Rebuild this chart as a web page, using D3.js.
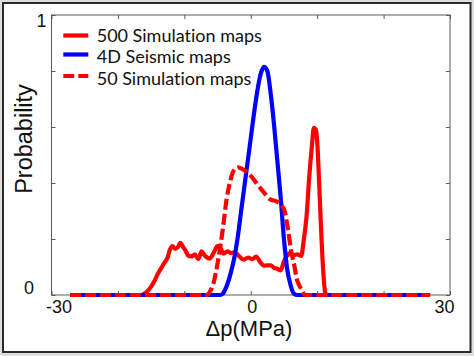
<!DOCTYPE html>
<html>
<head>
<meta charset="utf-8">
<script src="https://cdn.jsdelivr.net/npm/d3@7"></script>
<style>
  html, body { margin: 0; padding: 0; background: #dedede; }
  svg { display: block; }
  text { font-variant-ligatures: none; }
</style>
</head>
<body>
<svg id="chart" width="474" height="356"></svg>
<script>
// ---- data (Δp in MPa, probability) ----
const seriesNames = ["500 Simulation maps", "4D Seismic maps", "50 Simulation maps"];

const sim500X = [-27.2,-16.5,-16,-15.5,-15,-14.5,-14,-13.5,-13,-12.5,-12.2,-11.8,-11.4,-11.0,-10.6,-10.2,-9.8,-9.4,-8.9,-8.4,-7.9,-7.4,-6.9,-6.2,-5.6,-5.0,-4.5,-4.1,-3.5,-3.0,-2.4,-1.8,-1.1,-0.4,0.2,0.8,1.4,2.0,2.5,3.0,3.5,4.0,4.5,5.0,5.4,5.9,6.4,7.0,7.6,8.0,8.4,8.8,9.2,9.5,9.8,10.0,10.3,10.6,10.9,11.2,11.4,27];
const sim500P = [0,0,0.005,0.015,0.03,0.05,0.075,0.095,0.115,0.135,0.16,0.175,0.165,0.17,0.186,0.172,0.158,0.14,0.138,0.145,0.128,0.156,0.14,0.13,0.15,0.175,0.165,0.148,0.156,0.15,0.152,0.14,0.126,0.134,0.128,0.137,0.118,0.105,0.106,0.106,0.097,0.094,0.088,0.12,0.138,0.15,0.142,0.145,0.14,0.2,0.28,0.42,0.53,0.597,0.59,0.55,0.4,0.23,0.09,0.01,0,0];

const seismicX = [-27.2,-4.6,-4.2,-3.5,-3,-2.5,-2,-1.5,-1,-0.5,0,0.5,1,1.5,2,2.5,3,3.5,4,4.5,5,5.5,6,6.5,7,27];
const seismicP = [0,0,0.005,0.04,0.08,0.13,0.2,0.29,0.38,0.47,0.56,0.65,0.73,0.79,0.815,0.8,0.72,0.61,0.48,0.35,0.2,0.09,0.035,0.005,0,0];

const sim50X = [-27.2,-6.6,-6.2,-5.6,-4.9,-4.15,-3.65,-3.15,-2.65,-1.9,-1.15,-0.15,0.85,1.85,2.9,3.9,4.6,5.1,5.6,6.1,6.6,6.9,7.4,7.8,8.2,27];
const sim50P = [0,0,0.01,0.043,0.126,0.245,0.34,0.40,0.44,0.456,0.448,0.43,0.40,0.37,0.342,0.334,0.322,0.3,0.235,0.156,0.10,0.06,0.03,0.01,0,0];

const xTicks = [-30,-20,-10,0,10,20,30];
const xTickLabels = ["-30","","","0","","","30"];
const yTicks = [0,0.2,0.4,0.6,0.8,1];
const yTickLabels = ["0","","","","","1"];
const xLabel = "Δp(MPa)";
const yLabel = "Probability";

// ---- layout ----
const svg = d3.select("#chart");
const L = 51.5, R = 450, T = 15, B = 295;
const x = d3.scaleLinear().domain([-30, 30]).range([L, R]);
const y = d3.scaleLinear().domain([0, 1]).range([B, T]);

// outer frame
svg.append("rect").attr("x", 3).attr("y", 3).attr("width", 467.5).attr("height", 349)
  .attr("fill", "#fff").attr("stroke", "#2a2a2a").attr("stroke-width", 2);

const axisColor = "#5a5a5a";
const tickFont = "'Liberation Sans', Arial, sans-serif";

function styleAxis(g) {
  g.select(".domain").remove();
  g.selectAll(".tick line").attr("stroke", axisColor).attr("stroke-width", 1);
  g.selectAll(".tick text").attr("fill", "#111").style("font-family", tickFont).style("font-size", "18px");
}

// bottom axis
const xLabOffset = {"-30": 7, "0": 1, "30": -6};
svg.append("g").attr("transform", `translate(0,${B})`)
  .call(d3.axisBottom(x).tickValues(xTicks).tickSize(-4).tickSizeOuter(0)
        .tickFormat((d, i) => xTickLabels[i]))
  .call(styleAxis)
  .call(g => g.selectAll(".tick text").attr("y", 17.5).attr("dy", 0)
        .attr("dx", d => xLabOffset[String(d)] || 0));
// top axis
svg.append("g").attr("transform", `translate(0,${T})`)
  .call(d3.axisTop(x).tickValues(xTicks).tickSize(-4).tickSizeOuter(0).tickFormat(""))
  .call(styleAxis);
// left axis
const yLabPos = {"0": {x: -17.5, y: -1.8}, "1": {x: -5, y: 11.7}};
svg.append("g").attr("transform", `translate(${L},0)`)
  .call(d3.axisLeft(y).tickValues(yTicks).tickSize(-4).tickSizeOuter(0)
        .tickFormat((d, i) => yTickLabels[i]))
  .call(styleAxis)
  .call(g => g.selectAll(".tick text").attr("dy", 0)
        .attr("x", d => (yLabPos[String(d)] || {x:0}).x)
        .attr("y", d => (yLabPos[String(d)] || {y:0}).y));
// right axis
svg.append("g").attr("transform", `translate(${R},0)`)
  .call(d3.axisRight(y).tickValues(yTicks).tickSize(-4).tickSizeOuter(0).tickFormat(""))
  .call(styleAxis);

// plot frame
svg.append("rect").attr("x", L).attr("y", T).attr("width", R - L).attr("height", B - T)
  .attr("fill", "none").attr("stroke", axisColor).attr("stroke-width", 1);

// axis labels
svg.append("text").attr("x", 249).attr("y", 336).attr("text-anchor", "middle")
  .style("font-family", tickFont).style("font-size", "22px").attr("fill", "#111").text(xLabel);
svg.append("text").attr("transform", "translate(32,139) rotate(-90)").attr("text-anchor", "middle")
  .style("font-family", tickFont).style("font-size", "23.5px").attr("fill", "#111").text(yLabel);

// curves
const line = d3.line().x(d => x(d[0])).y(d => y(d[1])).curve(d3.curveMonotoneX);
const series = [
  {xs: sim500X, ps: sim500P, color: "#ff0000", dash: null},
  {xs: seismicX, ps: seismicP, color: "#0000ff", dash: null},
  {xs: sim50X, ps: sim50P, color: "#ff0000", dash: "11,4"}
];
series.forEach(s => {
  svg.append("path").datum(d3.zip(s.xs, s.ps))
    .attr("d", line).attr("fill", "none").attr("stroke", s.color)
    .attr("stroke-width", 4.2).attr("stroke-linejoin", "round")
    .attr("stroke-dasharray", s.dash);
});

// legend
const legLineY = [35.5, 54.5, 76];
const legTextY = [41.5, 63.3, 85];
series.forEach((s, i) => {
  svg.append("line").attr("x1", 63.3).attr("x2", 88.3).attr("y1", legLineY[i]).attr("y2", legLineY[i])
    .attr("stroke", s.color).attr("stroke-width", 4.2).attr("stroke-dasharray", s.dash);
  svg.append("text").attr("x", 96.7).attr("y", legTextY[i])
    .style("font-family", "Lato, sans-serif").style("font-size", "18px").attr("fill", "#111")
    .text(seriesNames[i]);
});
</script>
</body>
</html>
